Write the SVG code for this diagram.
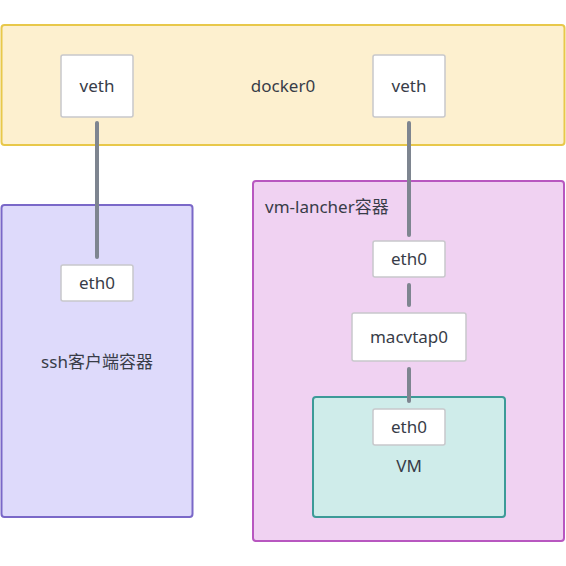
<svg xmlns="http://www.w3.org/2000/svg" width="566" height="566" viewBox="0 0 566 566">
<style>
text{font-family:"Noto Sans","Noto Sans CJK SC",sans-serif;font-size:17px;fill:#383c48;}
.port{fill:#fff;stroke:#c8c8cc;stroke-width:1.5;}
.link{stroke:#7e8590;stroke-width:4;stroke-linecap:round;fill:none;}
</style>
<rect width="566" height="566" fill="#fff"/>
<g id="docker0">
<rect x="1.5" y="25" width="563" height="120" rx="3" fill="#fdf0cf" stroke="#e8c84a" stroke-width="2"/>
<text x="283" y="92" text-anchor="middle">docker0</text>
</g>
<g id="ssh-container">
<rect x="1.5" y="205" width="191" height="312" rx="3" fill="#dedafb" stroke="#7a68c8" stroke-width="2"/>
<text x="97" y="368" text-anchor="middle">ssh客户端容器</text>
</g>
<g id="vm-lancher">
<rect x="253" y="181" width="311" height="360" rx="3" fill="#f0d2f2" stroke="#b857c0" stroke-width="2"/>
<text x="265" y="213">vm-lancher容器</text>
</g>
<g id="vm">
<rect x="313" y="397" width="192" height="120" rx="3" fill="#cfecea" stroke="#3d9a98" stroke-width="2"/>
<text x="409" y="472" text-anchor="middle">VM</text>
</g>
<g id="connectors">
<line class="link" x1="97" y1="123" x2="97" y2="257"/>
<line class="link" x1="409" y1="123" x2="409" y2="235"/>
<line class="link" x1="409" y1="285" x2="409" y2="305"/>
<line class="link" x1="409" y1="369" x2="409" y2="401"/>
</g>
<g id="veth-left">
<rect class="port" x="61" y="55" width="72" height="62" rx="2"/>
<text x="97" y="92" text-anchor="middle">veth</text>
</g>
<g id="veth-right">
<rect class="port" x="373" y="55" width="72" height="62" rx="2"/>
<text x="409" y="92" text-anchor="middle">veth</text>
</g>
<g id="eth0-ssh">
<rect class="port" x="61" y="265" width="72" height="36" rx="2"/>
<text x="97" y="289" text-anchor="middle">eth0</text>
</g>
<g id="eth0-launcher">
<rect class="port" x="373" y="241" width="72" height="36" rx="2"/>
<text x="409" y="265" text-anchor="middle">eth0</text>
</g>
<g id="macvtap0">
<rect class="port" x="352" y="313" width="114" height="48" rx="2"/>
<text x="409" y="343" text-anchor="middle">macvtap0</text>
</g>
<g id="eth0-vm">
<rect class="port" x="373" y="409" width="72" height="36" rx="2"/>
<text x="409" y="433" text-anchor="middle">eth0</text>
</g>
</svg>
